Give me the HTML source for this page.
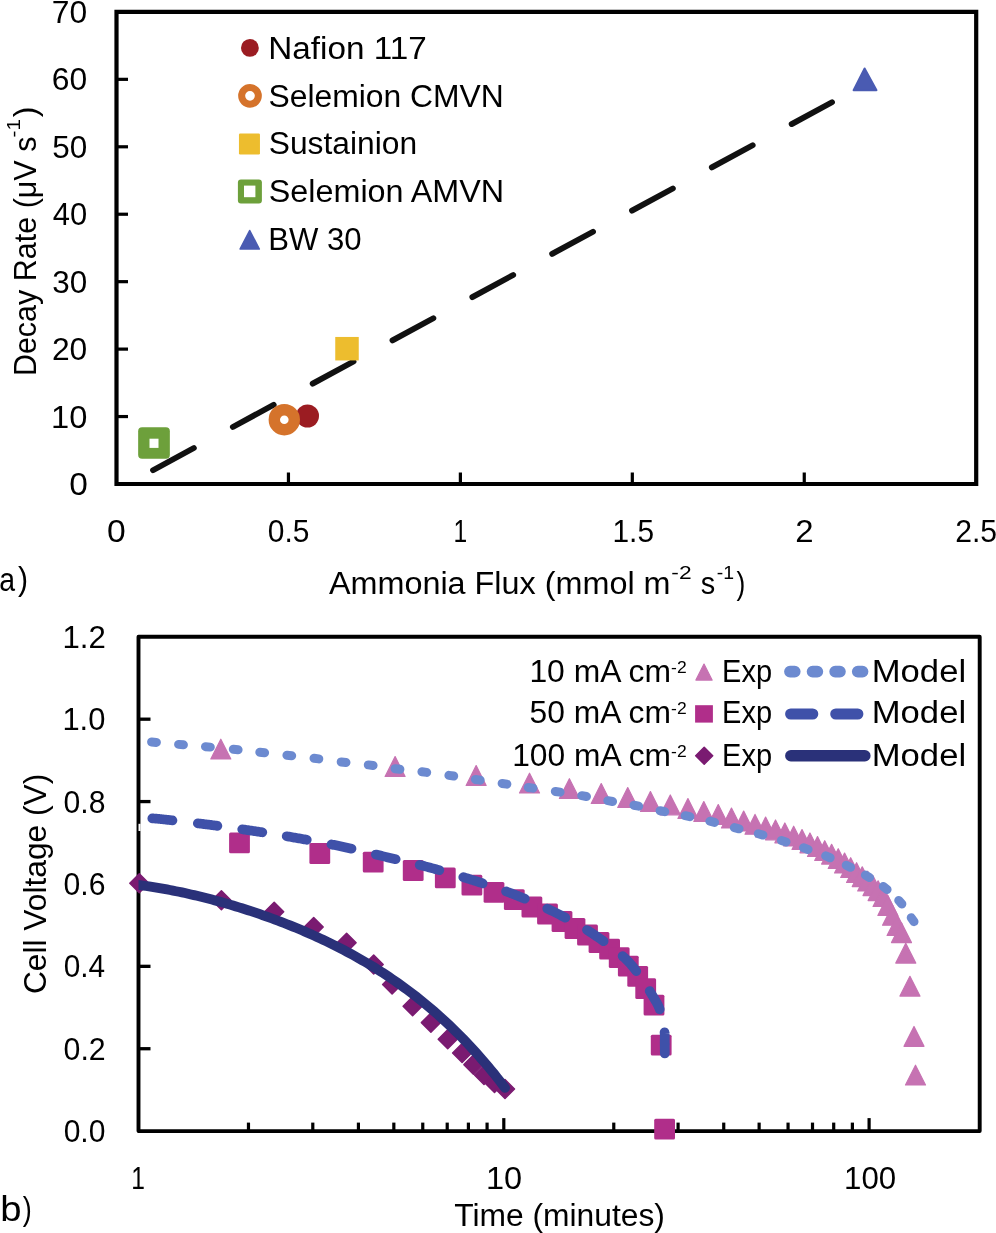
<!DOCTYPE html>
<html><head><meta charset="utf-8"><style>
html,body{margin:0;padding:0;background:#fff;}
svg{display:block;will-change:transform;font-family:"Liberation Sans", sans-serif;}
</style></head><body>
<svg width="996" height="1233" viewBox="0 0 996 1233">
<rect width="996" height="1233" fill="#fff"/>
<line x1="153" y1="470.2" x2="832" y2="102.2" stroke="#111" stroke-width="5.8" stroke-linecap="round" stroke-dasharray="46.5 44.3"/>
<circle cx="307.5" cy="416" r="11.5" fill="#9B1C22"/>
<circle cx="284.3" cy="419.7" r="10.0" fill="none" stroke="#D5732B" stroke-width="11.4"/>
<rect x="335.25" y="336.95" width="23.5" height="23.5" fill="#EDBD2E"/>
<rect x="138.15" y="427.25" width="31.7" height="31.5" rx="4" fill="#6DA03B"/>
<rect x="149.5" y="438.7" width="9" height="9.2" fill="#fff"/>
<path d="M864.6,68.5 L876.5,90.2 L853.6,90.2 Z" fill="#4A5BB2" stroke="#4A5BB2" stroke-width="2" stroke-linejoin="round"/>
<path d="M116.5,11.9 H976.2 V484.0 H116.5 Z" fill="none" stroke="#000" stroke-width="4.2"/>
<line x1="116.5" y1="416.56" x2="128.0" y2="416.56" stroke="#000" stroke-width="3.2"/>
<line x1="116.5" y1="349.11" x2="128.0" y2="349.11" stroke="#000" stroke-width="3.2"/>
<line x1="116.5" y1="281.67" x2="128.0" y2="281.67" stroke="#000" stroke-width="3.2"/>
<line x1="116.5" y1="214.23" x2="128.0" y2="214.23" stroke="#000" stroke-width="3.2"/>
<line x1="116.5" y1="146.79" x2="128.0" y2="146.79" stroke="#000" stroke-width="3.2"/>
<line x1="116.5" y1="79.34" x2="128.0" y2="79.34" stroke="#000" stroke-width="3.2"/>
<line x1="288.44" y1="484.0" x2="288.44" y2="472.5" stroke="#000" stroke-width="3.2"/>
<line x1="460.38" y1="484.0" x2="460.38" y2="472.5" stroke="#000" stroke-width="3.2"/>
<line x1="632.32" y1="484.0" x2="632.32" y2="472.5" stroke="#000" stroke-width="3.2"/>
<line x1="804.26" y1="484.0" x2="804.26" y2="472.5" stroke="#000" stroke-width="3.2"/>
<text x="69.39" y="495.0" font-size="31" textLength="18.61" lengthAdjust="spacingAndGlyphs">0</text>
<text x="51.02" y="427.6" font-size="31" textLength="36.26" lengthAdjust="spacingAndGlyphs">10</text>
<text x="51.90" y="360.1" font-size="31" textLength="35.34" lengthAdjust="spacingAndGlyphs">20</text>
<text x="52.30" y="292.7" font-size="31" textLength="34.92" lengthAdjust="spacingAndGlyphs">30</text>
<text x="52.79" y="225.2" font-size="31" textLength="34.42" lengthAdjust="spacingAndGlyphs">40</text>
<text x="52.24" y="157.8" font-size="31" textLength="34.99" lengthAdjust="spacingAndGlyphs">50</text>
<text x="51.89" y="90.3" font-size="31" textLength="35.36" lengthAdjust="spacingAndGlyphs">60</text>
<text x="51.87" y="22.9" font-size="31" textLength="35.37" lengthAdjust="spacingAndGlyphs">70</text>
<text x="107.08" y="542" font-size="31" textLength="18.73" lengthAdjust="spacingAndGlyphs">0</text>
<text x="267.83" y="542" font-size="31" textLength="41.63" lengthAdjust="spacingAndGlyphs">0.5</text>
<text x="453.53" y="542" font-size="31" textLength="13.67" lengthAdjust="spacingAndGlyphs">1</text>
<text x="612.52" y="542" font-size="31" textLength="41.53" lengthAdjust="spacingAndGlyphs">1.5</text>
<text x="795.34" y="542" font-size="31" textLength="18.31" lengthAdjust="spacingAndGlyphs">2</text>
<text x="955.18" y="542" font-size="31" textLength="41.88" lengthAdjust="spacingAndGlyphs">2.5</text>
<text x="328.94" y="594" font-size="31" textLength="341.60" lengthAdjust="spacingAndGlyphs">Ammonia Flux (mmol m</text>
<text x="671.39" y="579.3" font-size="18" textLength="20.26" lengthAdjust="spacingAndGlyphs">-2</text>
<text x="700.80" y="594" font-size="31" textLength="14.45" lengthAdjust="spacingAndGlyphs">s</text>
<text x="716.73" y="579.3" font-size="18" textLength="17.32" lengthAdjust="spacingAndGlyphs">-1</text>
<text x="736.55" y="594" font-size="31" textLength="8.79" lengthAdjust="spacingAndGlyphs">)</text>
<text transform="translate(35.6,0) rotate(-90)" x="-376.10" y="0" font-size="31" textLength="239.50" lengthAdjust="spacingAndGlyphs">Decay Rate (μV s</text>
<text transform="translate(20.1,0) rotate(-90)" x="-137.42" y="0" font-size="18" textLength="18.43" lengthAdjust="spacingAndGlyphs">-1</text>
<text transform="translate(35.6,0) rotate(-90)" x="-117.19" y="0" font-size="31" textLength="10.68" lengthAdjust="spacingAndGlyphs">)</text>
<text x="-0.71" y="591.3" font-size="32.5" textLength="15.81" lengthAdjust="spacingAndGlyphs">a</text>
<text x="17.92" y="589.9" font-size="33.7" textLength="10.05" lengthAdjust="spacingAndGlyphs">)</text>
<circle cx="249.9" cy="47.9" r="8.9" fill="#9B1C22"/>
<circle cx="250" cy="95.85" r="8.34" fill="none" stroke="#D5732B" stroke-width="7.0"/>
<rect x="238.95" y="133.55" width="21" height="21" rx="1.2" fill="#EDBD2E"/>
<rect x="237.9" y="179.55" width="24" height="24" rx="3" fill="#6DA03B"/>
<rect x="244.0" y="185.6" width="11.4" height="11.6" fill="#fff"/>
<path d="M249.7,230.5 L259.3,249 L240.1,249 Z" fill="#4A5BB2" stroke="#4A5BB2" stroke-width="1.6" stroke-linejoin="round"/>
<text x="268.21" y="59.0" font-size="31" textLength="158.54" lengthAdjust="spacingAndGlyphs">Nafion 117</text>
<text x="268.45" y="106.7" font-size="31" textLength="235.34" lengthAdjust="spacingAndGlyphs">Selemion CMVN</text>
<text x="268.76" y="154.4" font-size="31" textLength="148.30" lengthAdjust="spacingAndGlyphs">Sustainion</text>
<text x="268.74" y="202.3" font-size="31" textLength="235.48" lengthAdjust="spacingAndGlyphs">Selemion AMVN</text>
<text x="268.25" y="250.0" font-size="31" textLength="93.37" lengthAdjust="spacingAndGlyphs">BW 30</text>
<clipPath id="cp2"><rect x="138.5" y="636.8" width="841.2" height="494.29999999999995"/></clipPath>
<path d="M138.5,636.8 H979.7 V1131.1 H138.5 Z" fill="none" stroke="#000" stroke-width="3.9" stroke-linejoin="round"/>
<rect x="138.5" y="823.8" width="2.1" height="7.2" fill="#fff"/>
<line x1="138.5" y1="1048.72" x2="150.5" y2="1048.72" stroke="#000" stroke-width="3.3"/>
<line x1="138.5" y1="966.33" x2="150.5" y2="966.33" stroke="#000" stroke-width="3.3"/>
<line x1="138.5" y1="883.95" x2="150.5" y2="883.95" stroke="#000" stroke-width="3.3"/>
<line x1="138.5" y1="801.57" x2="150.5" y2="801.57" stroke="#000" stroke-width="3.3"/>
<line x1="138.5" y1="719.18" x2="150.5" y2="719.18" stroke="#000" stroke-width="3.3"/>
<line x1="248.47" y1="1131.1" x2="248.47" y2="1122.6" stroke="#000" stroke-width="3.2"/>
<line x1="312.79" y1="1131.1" x2="312.79" y2="1122.6" stroke="#000" stroke-width="3.2"/>
<line x1="358.43" y1="1131.1" x2="358.43" y2="1122.6" stroke="#000" stroke-width="3.2"/>
<line x1="393.83" y1="1131.1" x2="393.83" y2="1122.6" stroke="#000" stroke-width="3.2"/>
<line x1="422.76" y1="1131.1" x2="422.76" y2="1122.6" stroke="#000" stroke-width="3.2"/>
<line x1="447.21" y1="1131.1" x2="447.21" y2="1122.6" stroke="#000" stroke-width="3.2"/>
<line x1="468.40" y1="1131.1" x2="468.40" y2="1122.6" stroke="#000" stroke-width="3.2"/>
<line x1="487.08" y1="1131.1" x2="487.08" y2="1122.6" stroke="#000" stroke-width="3.2"/>
<line x1="503.80" y1="1131.1" x2="503.80" y2="1118.1" stroke="#000" stroke-width="3.2"/>
<line x1="613.77" y1="1131.1" x2="613.77" y2="1122.6" stroke="#000" stroke-width="3.2"/>
<line x1="678.09" y1="1131.1" x2="678.09" y2="1122.6" stroke="#000" stroke-width="3.2"/>
<line x1="723.73" y1="1131.1" x2="723.73" y2="1122.6" stroke="#000" stroke-width="3.2"/>
<line x1="759.13" y1="1131.1" x2="759.13" y2="1122.6" stroke="#000" stroke-width="3.2"/>
<line x1="788.06" y1="1131.1" x2="788.06" y2="1122.6" stroke="#000" stroke-width="3.2"/>
<line x1="812.51" y1="1131.1" x2="812.51" y2="1122.6" stroke="#000" stroke-width="3.2"/>
<line x1="833.70" y1="1131.1" x2="833.70" y2="1122.6" stroke="#000" stroke-width="3.2"/>
<line x1="852.38" y1="1131.1" x2="852.38" y2="1122.6" stroke="#000" stroke-width="3.2"/>
<line x1="869.10" y1="1131.1" x2="869.10" y2="1118.1" stroke="#000" stroke-width="3.2"/>
<path d="M220.81,739.20 L230.81,759.00 L210.81,759.00 Z" fill="#C672B2" stroke="#C672B2" stroke-width="1.2" stroke-linejoin="round"/>
<path d="M395.10,756.60 L405.10,776.40 L385.10,776.40 Z" fill="#C672B2" stroke="#C672B2" stroke-width="1.2" stroke-linejoin="round"/>
<path d="M476.14,765.60 L486.14,785.40 L466.14,785.40 Z" fill="#C672B2" stroke="#C672B2" stroke-width="1.2" stroke-linejoin="round"/>
<path d="M529.52,773.20 L539.52,793.00 L519.52,793.00 Z" fill="#C672B2" stroke="#C672B2" stroke-width="1.2" stroke-linejoin="round"/>
<path d="M569.39,778.70 L579.39,798.50 L559.39,798.50 Z" fill="#C672B2" stroke="#C672B2" stroke-width="1.2" stroke-linejoin="round"/>
<path d="M601.23,783.60 L611.23,803.40 L591.23,803.40 Z" fill="#C672B2" stroke="#C672B2" stroke-width="1.2" stroke-linejoin="round"/>
<path d="M627.73,787.60 L637.73,807.40 L617.73,807.40 Z" fill="#C672B2" stroke="#C672B2" stroke-width="1.2" stroke-linejoin="round"/>
<path d="M650.43,791.60 L660.43,811.40 L640.43,811.40 Z" fill="#C672B2" stroke="#C672B2" stroke-width="1.2" stroke-linejoin="round"/>
<path d="M670.29,795.00 L680.29,814.80 L660.29,814.80 Z" fill="#C672B2" stroke="#C672B2" stroke-width="1.2" stroke-linejoin="round"/>
<path d="M687.93,798.60 L697.93,818.40 L677.93,818.40 Z" fill="#C672B2" stroke="#C672B2" stroke-width="1.2" stroke-linejoin="round"/>
<path d="M703.81,801.60 L713.81,821.40 L693.81,821.40 Z" fill="#C672B2" stroke="#C672B2" stroke-width="1.2" stroke-linejoin="round"/>
<path d="M718.24,804.60 L728.24,824.40 L708.24,824.40 Z" fill="#C672B2" stroke="#C672B2" stroke-width="1.2" stroke-linejoin="round"/>
<path d="M731.47,808.10 L741.47,827.90 L721.47,827.90 Z" fill="#C672B2" stroke="#C672B2" stroke-width="1.2" stroke-linejoin="round"/>
<path d="M743.68,811.10 L753.68,830.90 L733.68,830.90 Z" fill="#C672B2" stroke="#C672B2" stroke-width="1.2" stroke-linejoin="round"/>
<path d="M755.02,814.40 L765.02,834.20 L745.02,834.20 Z" fill="#C672B2" stroke="#C672B2" stroke-width="1.2" stroke-linejoin="round"/>
<path d="M765.60,817.10 L775.60,836.90 L755.60,836.90 Z" fill="#C672B2" stroke="#C672B2" stroke-width="1.2" stroke-linejoin="round"/>
<path d="M775.52,820.00 L785.52,839.80 L765.52,839.80 Z" fill="#C672B2" stroke="#C672B2" stroke-width="1.2" stroke-linejoin="round"/>
<path d="M784.85,823.00 L794.85,842.80 L774.85,842.80 Z" fill="#C672B2" stroke="#C672B2" stroke-width="1.2" stroke-linejoin="round"/>
<path d="M793.67,826.20 L803.67,846.00 L783.67,846.00 Z" fill="#C672B2" stroke="#C672B2" stroke-width="1.2" stroke-linejoin="round"/>
<path d="M802.02,829.60 L812.02,849.40 L792.02,849.40 Z" fill="#C672B2" stroke="#C672B2" stroke-width="1.2" stroke-linejoin="round"/>
<path d="M809.96,833.00 L819.96,852.80 L799.96,852.80 Z" fill="#C672B2" stroke="#C672B2" stroke-width="1.2" stroke-linejoin="round"/>
<path d="M817.51,836.60 L827.51,856.40 L807.51,856.40 Z" fill="#C672B2" stroke="#C672B2" stroke-width="1.2" stroke-linejoin="round"/>
<path d="M824.72,840.70 L834.72,860.50 L814.72,860.50 Z" fill="#C672B2" stroke="#C672B2" stroke-width="1.2" stroke-linejoin="round"/>
<path d="M831.62,844.30 L841.62,864.10 L821.62,864.10 Z" fill="#C672B2" stroke="#C672B2" stroke-width="1.2" stroke-linejoin="round"/>
<path d="M838.23,848.70 L848.23,868.50 L828.23,868.50 Z" fill="#C672B2" stroke="#C672B2" stroke-width="1.2" stroke-linejoin="round"/>
<path d="M844.58,853.10 L854.58,872.90 L834.58,872.90 Z" fill="#C672B2" stroke="#C672B2" stroke-width="1.2" stroke-linejoin="round"/>
<path d="M850.68,857.70 L860.68,877.50 L840.68,877.50 Z" fill="#C672B2" stroke="#C672B2" stroke-width="1.2" stroke-linejoin="round"/>
<path d="M856.56,862.70 L866.56,882.50 L846.56,882.50 Z" fill="#C672B2" stroke="#C672B2" stroke-width="1.2" stroke-linejoin="round"/>
<path d="M862.23,866.80 L872.23,886.60 L852.23,886.60 Z" fill="#C672B2" stroke="#C672B2" stroke-width="1.2" stroke-linejoin="round"/>
<path d="M867.70,871.20 L877.70,891.00 L857.70,891.00 Z" fill="#C672B2" stroke="#C672B2" stroke-width="1.2" stroke-linejoin="round"/>
<path d="M872.99,875.80 L882.99,895.60 L862.99,895.60 Z" fill="#C672B2" stroke="#C672B2" stroke-width="1.2" stroke-linejoin="round"/>
<path d="M878.10,880.80 L888.10,900.60 L868.10,900.60 Z" fill="#C672B2" stroke="#C672B2" stroke-width="1.2" stroke-linejoin="round"/>
<path d="M883.06,886.60 L893.06,906.40 L873.06,906.40 Z" fill="#C672B2" stroke="#C672B2" stroke-width="1.2" stroke-linejoin="round"/>
<path d="M887.87,895.60 L897.87,915.40 L877.87,915.40 Z" fill="#C672B2" stroke="#C672B2" stroke-width="1.2" stroke-linejoin="round"/>
<path d="M892.54,905.40 L902.54,925.20 L882.54,925.20 Z" fill="#C672B2" stroke="#C672B2" stroke-width="1.2" stroke-linejoin="round"/>
<path d="M897.07,915.70 L907.07,935.50 L887.07,935.50 Z" fill="#C672B2" stroke="#C672B2" stroke-width="1.2" stroke-linejoin="round"/>
<path d="M901.48,922.80 L911.48,942.60 L891.48,942.60 Z" fill="#C672B2" stroke="#C672B2" stroke-width="1.2" stroke-linejoin="round"/>
<path d="M905.77,943.30 L915.77,963.10 L895.77,963.10 Z" fill="#C672B2" stroke="#C672B2" stroke-width="1.2" stroke-linejoin="round"/>
<path d="M909.94,976.30 L919.94,996.10 L899.94,996.10 Z" fill="#C672B2" stroke="#C672B2" stroke-width="1.2" stroke-linejoin="round"/>
<path d="M914.01,1026.50 L924.01,1046.30 L904.01,1046.30 Z" fill="#C672B2" stroke="#C672B2" stroke-width="1.2" stroke-linejoin="round"/>
<path d="M915.50,1065.20 L925.50,1085.00 L905.50,1085.00 Z" fill="#C672B2" stroke="#C672B2" stroke-width="1.2" stroke-linejoin="round"/>
<path d="M151.61,741.99L156.39,742.41M178.61,744.39L183.39,744.81M205.51,746.69L210.29,747.11M233.31,749.25L238.09,749.75M259.81,752.23L264.59,752.77M286.92,755.23L291.68,755.77M314.02,758.31L318.78,758.89M341.22,761.91L345.98,762.49M368.32,764.90L373.08,765.50M395.12,768.69L399.88,769.31M421.92,771.80L426.68,772.40M448.92,775.36L453.68,776.04M475.43,779.44L480.17,780.16M502.13,783.44L506.87,784.16M528.23,787.44L532.97,788.16M555.33,791.43L560.07,792.17M581.74,795.68L586.46,796.52M607.84,800.67L612.56,801.53M633.94,805.24L638.66,806.16M660.05,810.72L664.75,811.68M685.15,815.70L689.85,816.70M709.87,821.23L714.53,822.37M734.38,827.60L739.02,828.80M758.29,833.76L762.91,835.04M781.41,840.48L785.99,841.92M803.54,847.80L808.06,849.40M825.68,855.88L830.12,857.72M846.25,865.24L850.55,867.36M865.43,875.08L869.57,877.52M883.32,886.51L887.08,889.49M898.73,900.38L901.87,904.02M911.22,917.74L913.98,921.66" fill="none" stroke="#6C8AD0" stroke-width="9" stroke-linecap="round"/>
<rect x="229.10" y="832.40" width="20.8" height="20.8" rx="1.5" fill="#B02E8A"/>
<rect x="309.40" y="843.10" width="20.8" height="20.8" rx="1.5" fill="#B02E8A"/>
<rect x="362.80" y="851.80" width="20.8" height="20.8" rx="1.5" fill="#B02E8A"/>
<rect x="402.80" y="860.10" width="20.8" height="20.8" rx="1.5" fill="#B02E8A"/>
<rect x="434.90" y="867.50" width="20.8" height="20.8" rx="1.5" fill="#B02E8A"/>
<rect x="461.50" y="874.80" width="20.8" height="20.8" rx="1.5" fill="#B02E8A"/>
<rect x="483.60" y="881.90" width="20.8" height="20.8" rx="1.5" fill="#B02E8A"/>
<rect x="503.90" y="889.30" width="20.8" height="20.8" rx="1.5" fill="#B02E8A"/>
<rect x="521.50" y="896.60" width="20.8" height="20.8" rx="1.5" fill="#B02E8A"/>
<rect x="537.10" y="903.60" width="20.8" height="20.8" rx="1.5" fill="#B02E8A"/>
<rect x="551.60" y="911.10" width="20.8" height="20.8" rx="1.5" fill="#B02E8A"/>
<rect x="564.60" y="918.10" width="20.8" height="20.8" rx="1.5" fill="#B02E8A"/>
<rect x="577.10" y="924.60" width="20.8" height="20.8" rx="1.5" fill="#B02E8A"/>
<rect x="588.60" y="932.10" width="20.8" height="20.8" rx="1.5" fill="#B02E8A"/>
<rect x="599.20" y="938.80" width="20.8" height="20.8" rx="1.5" fill="#B02E8A"/>
<rect x="608.80" y="947.20" width="20.8" height="20.8" rx="1.5" fill="#B02E8A"/>
<rect x="617.90" y="955.80" width="20.8" height="20.8" rx="1.5" fill="#B02E8A"/>
<rect x="627.30" y="965.90" width="20.8" height="20.8" rx="1.5" fill="#B02E8A"/>
<rect x="635.30" y="978.30" width="20.8" height="20.8" rx="1.5" fill="#B02E8A"/>
<rect x="643.60" y="994.80" width="20.8" height="20.8" rx="1.5" fill="#B02E8A"/>
<rect x="650.80" y="1034.70" width="20.8" height="20.8" rx="1.5" fill="#B02E8A"/>
<rect x="654.20" y="1118.80" width="20.8" height="20.8" rx="1.5" fill="#B02E8A"/>
<path d="M152.30,818.40 L152.43,818.41 L152.54,818.42 L152.66,818.43 L152.76,818.43 L152.87,818.44 L152.97,818.45 L153.07,818.45 L153.17,818.45 L153.27,818.46 L153.37,818.46 L153.47,818.46 L153.58,818.47 L153.69,818.47 L153.81,818.48 L153.94,818.48 L154.07,818.49 L154.21,818.50 L154.37,818.50 L154.53,818.51 L154.71,818.52 L154.91,818.54 L155.11,818.55 L155.34,818.57 L155.58,818.59 L155.84,818.61 L156.12,818.63 L156.42,818.66 L156.74,818.69 L157.08,818.72 L157.45,818.75 L157.85,818.79 L158.26,818.83 L158.71,818.88 L159.19,818.92 L159.69,818.98 L160.23,819.03 L160.80,819.09 L161.40,819.16 L162.03,819.23 L162.70,819.30 L163.41,819.38 L164.16,819.46 L164.95,819.55 L165.77,819.64 L166.64,819.74 L167.53,819.84 L168.46,819.94 L169.42,820.05 L170.42,820.16 L171.44,820.27 L172.48,820.39M197.81,823.32 L199.04,823.47 L200.26,823.62 L201.47,823.77 L202.67,823.92 L203.85,824.06 L205.02,824.21 L206.17,824.36 L207.30,824.50 L208.42,824.64 L209.54,824.79 L210.66,824.93 L211.79,825.08 L212.91,825.23 L214.03,825.38 L215.16,825.53 L216.28,825.68 L217.41,825.83M242.21,829.30 L243.33,829.46 L244.46,829.63 L245.58,829.80 L246.70,829.96 L247.82,830.13 L248.94,830.30 L250.06,830.46 L251.18,830.63 L252.30,830.80 L253.42,830.97 L254.53,831.14 L255.65,831.31 L256.76,831.48 L257.88,831.65 L258.99,831.82 L260.10,831.99 L261.21,832.16 L262.32,832.33M286.69,836.27 L287.80,836.46 L288.91,836.65 L290.02,836.84 L291.13,837.03 L292.25,837.22 L293.36,837.42 L294.47,837.61 L295.59,837.80 L296.70,838.00 L297.82,838.20 L298.93,838.39 L300.05,838.59 L301.17,838.79 L302.28,838.99 L303.40,839.19 L304.52,839.39 L305.64,839.59 L306.76,839.79M331.45,844.43 L332.57,844.66 L333.68,844.88 L334.80,845.11 L335.92,845.34 L337.04,845.57 L338.16,845.80 L339.27,846.03 L340.39,846.26 L341.50,846.50 L342.61,846.74 L343.73,846.98 L344.84,847.22 L345.95,847.46 L347.07,847.71 L348.18,847.96 L349.29,848.20 L350.40,848.46 L351.51,848.71M375.88,854.51 L376.99,854.78 L378.09,855.04 L379.19,855.31 L380.29,855.58 L381.40,855.84 L382.50,856.11 L383.60,856.37 L384.70,856.64 L385.80,856.90 L386.90,857.16 L388.00,857.42 L389.10,857.68 L390.20,857.94 L391.29,858.20 L392.39,858.46 L393.49,858.72 L394.58,858.97 L395.68,859.23M419.69,864.97 L420.78,865.24 L421.87,865.52 L422.96,865.79 L424.05,866.07 L425.14,866.35 L426.23,866.64 L427.32,866.92 L428.41,867.21 L429.50,867.50 L430.59,867.79 L431.68,868.09 L432.77,868.38 L433.86,868.68 L434.95,868.97 L436.05,869.27 L437.14,869.57 L438.23,869.87 L439.32,870.17M463.28,877.16 L464.37,877.49 L465.45,877.83 L466.53,878.16 L467.61,878.50 L468.69,878.84 L469.77,879.17 L470.85,879.52 L471.92,879.86 L473.00,880.20 L474.07,880.54 L475.15,880.89 L476.22,881.23 L477.30,881.58 L478.37,881.93 L479.45,882.28 L480.52,882.62 L481.59,882.97 L482.66,883.33M506.07,891.41 L507.12,891.80 L508.18,892.19 L509.23,892.59 L510.28,892.98 L511.32,893.38 L512.37,893.78 L513.41,894.19 L514.46,894.59 L515.50,895.00 L516.54,895.41 L517.58,895.82 L518.62,896.24 L519.66,896.65 L520.69,897.07 L521.73,897.48 L522.76,897.90 L523.80,898.32 L524.83,898.75M547.27,908.58 L548.28,909.06 L549.28,909.54 L550.29,910.03 L551.29,910.51 L552.30,911.00 L553.30,911.50 L554.30,911.99 L555.30,912.50 L556.30,913.00 L557.30,913.51 L558.30,914.02 L559.30,914.53 L560.30,915.05 L561.30,915.56 L562.30,916.08 L563.31,916.61 L564.31,917.13 L565.31,917.66M586.97,930.01 L587.92,930.61 L588.87,931.21 L589.82,931.81 L590.76,932.42 L591.70,933.03 L592.63,933.64 L593.56,934.26 L594.48,934.88 L595.40,935.50 L596.32,936.13 L597.23,936.75 L598.14,937.38 L599.06,938.00 L599.97,938.63 L600.88,939.26 L601.79,939.89 L602.69,940.53 L603.60,941.16M622.59,956.07 L623.40,956.81 L624.20,957.56 L624.99,958.31 L625.77,959.07 L626.55,959.84 L627.33,960.62 L628.09,961.40 L628.85,962.20 L629.60,963.00 L630.35,963.82 L631.09,964.66 L631.84,965.52 L632.59,966.41 L633.33,967.31 L634.08,968.24 L634.82,969.17 L635.56,970.13 L636.30,971.10M649.71,991.08 L650.27,992.00 L650.82,992.91 L651.36,993.79 L651.88,994.66 L652.39,995.50 L652.89,996.31 L653.36,997.11 L653.82,997.87 L654.27,998.61 L654.69,999.32 L655.10,1000.00 L655.49,1000.65 L655.85,1001.27 L656.20,1001.87 L656.53,1002.45 L656.84,1003.00 L657.13,1003.54 L657.40,1004.05 L657.66,1004.54 L657.90,1005.02 L658.12,1005.48 L658.33,1005.92 L658.53,1006.34 L658.72,1006.75 L658.89,1007.15 L659.05,1007.54 L659.20,1007.91 L659.34,1008.28 L659.47,1008.63 L659.59,1008.97 L659.71,1009.31M664.54,1032.33 L664.57,1032.66 L664.61,1032.98 L664.63,1033.30 L664.66,1033.61 L664.68,1033.91 L664.70,1034.22 L664.72,1034.51 L664.74,1034.80 L664.75,1035.09 L664.76,1035.37 L664.77,1035.65 L664.78,1035.93 L664.78,1036.20 L664.78,1036.47 L664.79,1036.74 L664.79,1037.01 L664.79,1037.27 L664.78,1037.53 L664.78,1037.79 L664.78,1038.04 L664.77,1038.30 L664.77,1038.55 L664.76,1038.81 L664.76,1039.06 L664.75,1039.31 L664.74,1039.56 L664.74,1039.81 L664.73,1040.06 L664.72,1040.32 L664.72,1040.57 L664.71,1040.82 L664.71,1041.07 L664.70,1041.33 L664.70,1041.59 L664.70,1041.85 L664.70,1042.11 L664.70,1042.37 L664.70,1042.63 L664.70,1042.90 L664.70,1043.17 L664.71,1043.45 L664.71,1043.73 L664.71,1044.02 L664.72,1044.31 L664.72,1044.61 L664.72,1044.91 L664.73,1045.21 L664.73,1045.51 L664.73,1045.82 L664.74,1046.13 L664.74,1046.44 L664.74,1046.75 L664.75,1047.05 L664.75,1047.36 L664.75,1047.67 L664.75,1047.98 L664.76,1048.28 L664.76,1048.58 L664.76,1048.88 L664.76,1049.18 L664.77,1049.47 L664.77,1049.76 L664.77,1050.04 L664.77,1050.31 L664.78,1050.59 L664.78,1050.85 L664.78,1051.11 L664.78,1051.36 L664.78,1051.60 L664.79,1051.84 L664.79,1052.06 L664.79,1052.28 L664.79,1052.49 L664.79,1052.68 L664.79,1052.87 L664.80,1053.05 L664.80,1053.21 L664.80,1053.36 L664.80,1053.50" fill="none" stroke="#3F51A9" stroke-width="9.7" stroke-linecap="round" stroke-linejoin="round"/>
<path d="M139.30,873.70 L148.80,883.20 L139.30,892.70 L129.80,883.20 Z" fill="#7A1B71" stroke="#7A1B71" stroke-width="1.5" stroke-linejoin="round"/>
<path d="M221.40,890.70 L230.90,900.20 L221.40,909.70 L211.90,900.20 Z" fill="#7A1B71" stroke="#7A1B71" stroke-width="1.5" stroke-linejoin="round"/>
<path d="M274.20,902.30 L283.70,911.80 L274.20,921.30 L264.70,911.80 Z" fill="#7A1B71" stroke="#7A1B71" stroke-width="1.5" stroke-linejoin="round"/>
<path d="M313.70,917.50 L323.20,927.00 L313.70,936.50 L304.20,927.00 Z" fill="#7A1B71" stroke="#7A1B71" stroke-width="1.5" stroke-linejoin="round"/>
<path d="M346.60,933.30 L356.10,942.80 L346.60,952.30 L337.10,942.80 Z" fill="#7A1B71" stroke="#7A1B71" stroke-width="1.5" stroke-linejoin="round"/>
<path d="M373.70,955.00 L383.20,964.50 L373.70,974.00 L364.20,964.50 Z" fill="#7A1B71" stroke="#7A1B71" stroke-width="1.5" stroke-linejoin="round"/>
<path d="M392.10,975.00 L401.60,984.50 L392.10,994.00 L382.60,984.50 Z" fill="#7A1B71" stroke="#7A1B71" stroke-width="1.5" stroke-linejoin="round"/>
<path d="M412.60,996.70 L422.10,1006.20 L412.60,1015.70 L403.10,1006.20 Z" fill="#7A1B71" stroke="#7A1B71" stroke-width="1.5" stroke-linejoin="round"/>
<path d="M430.90,1013.10 L440.40,1022.60 L430.90,1032.10 L421.40,1022.60 Z" fill="#7A1B71" stroke="#7A1B71" stroke-width="1.5" stroke-linejoin="round"/>
<path d="M447.70,1029.80 L457.20,1039.30 L447.70,1048.80 L438.20,1039.30 Z" fill="#7A1B71" stroke="#7A1B71" stroke-width="1.5" stroke-linejoin="round"/>
<path d="M462.10,1043.50 L471.60,1053.00 L462.10,1062.50 L452.60,1053.00 Z" fill="#7A1B71" stroke="#7A1B71" stroke-width="1.5" stroke-linejoin="round"/>
<path d="M473.40,1055.10 L482.90,1064.60 L473.40,1074.10 L463.90,1064.60 Z" fill="#7A1B71" stroke="#7A1B71" stroke-width="1.5" stroke-linejoin="round"/>
<path d="M484.00,1065.50 L493.50,1075.00 L484.00,1084.50 L474.50,1075.00 Z" fill="#7A1B71" stroke="#7A1B71" stroke-width="1.5" stroke-linejoin="round"/>
<path d="M494.50,1073.50 L504.00,1083.00 L494.50,1092.50 L485.00,1083.00 Z" fill="#7A1B71" stroke="#7A1B71" stroke-width="1.5" stroke-linejoin="round"/>
<path d="M505.00,1079.50 L514.50,1089.00 L505.00,1098.50 L495.50,1089.00 Z" fill="#7A1B71" stroke="#7A1B71" stroke-width="1.5" stroke-linejoin="round"/>
<path d="M134.00,884.46 L137.00,884.81 L140.00,885.19 L143.00,885.58 L146.00,886.00 L149.00,886.43 L152.00,886.89 L155.00,887.36 L158.00,887.85 L161.00,888.36 L164.00,888.89 L167.00,889.44 L170.00,890.00 L173.00,890.58 L176.00,891.18 L179.00,891.79 L182.00,892.42 L185.00,893.07 L188.00,893.74 L191.00,894.41 L194.00,895.11 L197.00,895.82 L200.00,896.55 L203.00,897.29 L206.00,898.05 L209.00,898.82 L212.00,899.61 L215.00,900.41 L218.00,901.23 L221.00,902.06 L224.00,902.90 L227.00,903.77 L230.00,904.64 L233.00,905.53 L236.00,906.44 L239.00,907.36 L242.00,908.30 L245.00,909.25 L248.00,910.22 L251.00,911.20 L254.00,912.20 L257.00,913.21 L260.00,914.24 L263.00,915.28 L266.00,916.34 L269.00,917.41 L272.00,918.50 L275.00,919.61 L278.00,920.74 L281.00,921.88 L284.00,923.03 L287.00,924.21 L290.00,925.40 L293.00,926.61 L296.00,927.84 L299.00,929.09 L302.00,930.35 L305.00,931.63 L308.00,932.94 L311.00,934.26 L314.00,935.60 L317.00,936.96 L320.00,938.35 L323.00,939.75 L326.00,941.18 L329.00,942.63 L332.00,944.09 L335.00,945.59 L338.00,947.10 L341.00,948.64 L344.00,950.21 L347.00,951.80 L350.00,953.41 L353.00,955.05 L356.00,956.71 L359.00,958.41 L362.00,960.13 L365.00,961.87 L368.00,963.65 L371.00,965.45 L374.00,967.29 L377.00,969.16 L380.00,971.05 L383.00,972.98 L386.00,974.94 L389.00,976.93 L392.00,978.96 L395.00,981.02 L398.00,983.12 L401.00,985.25 L404.00,987.42 L407.00,989.63 L410.00,991.87 L413.00,994.15 L416.00,996.48 L419.00,998.84 L422.00,1001.24 L425.00,1003.69 L428.00,1006.18 L431.00,1008.72 L434.00,1011.29 L437.00,1013.92 L440.00,1016.59 L443.00,1019.31 L446.00,1022.07 L449.00,1024.89 L452.00,1027.76 L455.00,1030.67 L458.00,1033.64 L461.00,1036.66 L464.00,1039.74 L467.00,1042.87 L470.00,1046.06 L473.00,1049.31 L476.00,1052.61 L479.00,1055.97 L482.00,1059.40 L485.00,1062.88 L488.00,1066.43 L491.00,1070.04 L494.00,1073.72 L497.00,1077.46 L500.00,1081.27 L503.00,1085.15 L505.10,1087.91" fill="none" stroke="#2A3179" stroke-width="9.8" stroke-linecap="round" stroke-linejoin="round" clip-path="url(#cp2)"/>
<text x="63.63" y="1142.1" font-size="31" textLength="41.75" lengthAdjust="spacingAndGlyphs">0.0</text>
<text x="63.62" y="1059.7" font-size="31" textLength="42.11" lengthAdjust="spacingAndGlyphs">0.2</text>
<text x="63.64" y="977.3" font-size="31" textLength="41.44" lengthAdjust="spacingAndGlyphs">0.4</text>
<text x="63.62" y="894.9" font-size="31" textLength="41.90" lengthAdjust="spacingAndGlyphs">0.6</text>
<text x="63.62" y="812.6" font-size="31" textLength="41.89" lengthAdjust="spacingAndGlyphs">0.8</text>
<text x="62.45" y="730.2" font-size="31" textLength="42.96" lengthAdjust="spacingAndGlyphs">1.0</text>
<text x="62.43" y="647.8" font-size="31" textLength="43.34" lengthAdjust="spacingAndGlyphs">1.2</text>
<text x="131.13" y="1189.2" font-size="31" textLength="13.67" lengthAdjust="spacingAndGlyphs">1</text>
<text x="485.92" y="1189.2" font-size="31" textLength="36.14" lengthAdjust="spacingAndGlyphs">10</text>
<text x="844.12" y="1189.2" font-size="31" textLength="52.10" lengthAdjust="spacingAndGlyphs">100</text>
<text x="454.19" y="1225.8" font-size="31" textLength="210.67" lengthAdjust="spacingAndGlyphs">Time (minutes)</text>
<text transform="translate(46.3,0) rotate(-90)" x="-994.10" y="0" font-size="31" textLength="220.35" lengthAdjust="spacingAndGlyphs">Cell Voltage (V)</text>
<text x="0.23" y="1221.3" font-size="34.5" textLength="21.27" lengthAdjust="spacingAndGlyphs">b</text>
<text x="22.74" y="1220.4" font-size="33.6" textLength="9.04" lengthAdjust="spacingAndGlyphs">)</text>
<text x="529.40" y="681.6" font-size="31" textLength="141.57" lengthAdjust="spacingAndGlyphs">10 mA cm</text>
<text x="671.12" y="672.6" font-size="17" textLength="15.56" lengthAdjust="spacingAndGlyphs">-2</text>
<text x="722.12" y="681.6" font-size="31" textLength="50.00" lengthAdjust="spacingAndGlyphs">Exp</text>
<text x="871.76" y="681.6" font-size="31" textLength="94.36" lengthAdjust="spacingAndGlyphs">Model</text>
<text x="529.64" y="723.4" font-size="31" textLength="141.33" lengthAdjust="spacingAndGlyphs">50 mA cm</text>
<text x="671.12" y="714.4" font-size="17" textLength="15.56" lengthAdjust="spacingAndGlyphs">-2</text>
<text x="722.12" y="723.4" font-size="31" textLength="50.00" lengthAdjust="spacingAndGlyphs">Exp</text>
<text x="871.76" y="723.4" font-size="31" textLength="94.36" lengthAdjust="spacingAndGlyphs">Model</text>
<text x="512.21" y="765.5" font-size="31" textLength="158.76" lengthAdjust="spacingAndGlyphs">100 mA cm</text>
<text x="671.12" y="756.5" font-size="17" textLength="15.56" lengthAdjust="spacingAndGlyphs">-2</text>
<text x="722.12" y="765.5" font-size="31" textLength="50.00" lengthAdjust="spacingAndGlyphs">Exp</text>
<text x="871.76" y="765.5" font-size="31" textLength="94.36" lengthAdjust="spacingAndGlyphs">Model</text>
<path d="M704.00,664.10 L712.10,680.10 L695.90,680.10 Z" fill="#C672B2" stroke="#C672B2" stroke-width="1.2" stroke-linejoin="round"/>
<rect x="695.1" y="705.2" width="17.8" height="17.4" fill="#B02E8A"/>
<path d="M704.20,747.20 L712.70,755.70 L704.20,764.20 L695.70,755.70 Z" fill="#7A1B71" stroke="#7A1B71" stroke-width="1.5" stroke-linejoin="round"/>
<line x1="790" y1="671.6" x2="864.6" y2="671.6" stroke="#6C8AD0" stroke-width="11.8" stroke-linecap="round" stroke-dasharray="4.7 17.9"/>
<line x1="790.7" y1="714" x2="858.4" y2="714" stroke="#3F51A9" stroke-width="11.2" stroke-linecap="round" stroke-dasharray="22 23.1"/>
<line x1="790.8" y1="755.7" x2="864.9" y2="755.7" stroke="#2A3179" stroke-width="11.4" stroke-linecap="round"/>
</svg>
</body></html>
